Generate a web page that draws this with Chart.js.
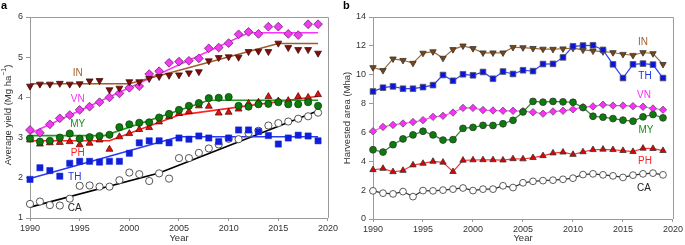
<!DOCTYPE html>
<html><head><meta charset="utf-8">
<script src="https://cdn.jsdelivr.net/npm/chart.js@4.4.1/dist/chart.umd.min.js"></script>
<style>
html,body{margin:0;padding:0;background:#fff;}
#wrap{position:relative;width:685px;height:245px;overflow:hidden;background:#fff;}
#ca{position:absolute;left:0;top:0;}
#cb{position:absolute;left:340px;top:0;}
</style></head><body>
<div id="wrap">
<canvas id="ca" width="340" height="245"></canvas>
<canvas id="cb" width="345" height="245"></canvas>
</div>
<script>
// ---------- categories ----------
const years = [1990,1991,1992,1993,1994,1995,1996,1997,1998,1999,2000,2001,2002,2003,2004,
               2005,2006,2007,2008,2009,2010,2011,2012,2013,2014,2015,2016,2017,2018,2019];
const countries = ['IN','VN','MY','PH','TH','CA'];

// ---------- panel a : average yield (Mg/ha) ----------
const yieldIN = [4.28,4.33,4.33,4.35,4.33,4.34,4.41,4.42,4.19,4.23,4.39,4.39,4.47,4.52,4.55,4.56,4.61,4.64,4.91,4.99,5.01,5.00,5.14,5.15,5.14,5.35,5.24,5.19,5.19,5.10];
const yieldVN = [3.19,3.12,3.33,3.48,3.56,3.69,3.77,3.88,4.00,4.10,4.24,4.28,4.58,4.65,4.86,4.89,4.91,4.97,5.22,5.24,5.35,5.57,5.63,5.58,5.76,5.76,5.58,5.55,5.82,5.82];
const yieldMY = [2.98,2.90,2.92,3.00,3.10,2.97,3.01,3.04,3.07,3.26,3.33,3.37,3.38,3.50,3.59,3.69,3.79,3.86,3.98,3.99,4.01,3.79,3.77,3.83,3.84,3.88,3.83,3.83,3.88,3.79];
const yieldPH = [2.94,2.84,2.87,2.88,2.90,2.82,2.86,2.94,2.71,3.02,3.10,3.20,3.25,3.39,3.52,3.60,3.65,3.79,3.78,3.61,3.63,3.71,3.85,3.88,4.02,3.91,3.92,4.02,4.00,4.07];
const yieldTH = [1.96,2.25,2.18,2.04,2.36,2.41,2.41,2.39,2.41,2.41,2.61,2.87,2.92,2.92,2.87,2.99,2.96,3.04,2.99,2.90,2.99,3.19,3.19,3.15,3.05,2.84,2.99,3.06,3.04,2.92];
const yieldCA = [1.35,1.41,1.32,1.31,1.48,1.80,1.81,1.78,1.78,1.94,2.13,2.09,1.92,2.11,1.98,2.49,2.49,2.62,2.73,2.83,2.97,2.96,3.11,3.17,3.30,3.36,3.40,3.47,3.53,3.62];

// segmented-regression fit lines (break-point years and values)
const fitYearsIN = [1990,2000,2015,2019];   const fitIN = [4.34,4.34,5.34,5.34];
const fitYearsVN = [1990,2012,2019];        const fitVN = [3.10,5.61,5.61];
const fitYearsMY = [1990,1997.5,2008,2019]; const fitMY = [3.05,3.05,3.93,3.93];
const fitYearsPH = [1990,1998,2005,2019];   const fitPH = [2.92,2.92,3.56,4.03];
const fitYearsTH = [1990,2005,2019];        const fitTH = [1.98,3.02,3.02];
const fitYearsCA = [1990,2003,2019];        const fitCA = [1.27,2.12,3.67];

// ---------- panel b : harvested area (Mha) ----------
const areaIN = [10.50,10.30,11.10,11.00,10.80,11.50,11.60,11.15,11.75,12.00,11.82,11.52,11.52,11.52,11.90,11.88,11.83,11.78,11.77,11.80,11.84,11.72,11.65,11.60,11.54,11.42,11.35,11.54,11.47,10.72];
const areaTH = [8.84,9.10,9.19,9.03,9.03,9.14,9.28,9.98,9.58,10.03,9.96,10.19,9.72,10.22,10.05,10.31,10.25,10.74,10.75,11.20,11.97,12.02,12.04,11.72,10.72,9.77,10.72,10.77,10.70,9.77];
const areaVN = [6.08,6.38,6.52,6.62,6.72,6.85,7.08,7.15,7.38,7.70,7.70,7.55,7.52,7.50,7.50,7.47,7.40,7.30,7.45,7.50,7.60,7.75,7.80,7.92,7.86,7.86,7.82,7.78,7.66,7.57];
const areaMY = [4.80,4.64,5.15,5.55,5.83,6.08,5.83,5.47,5.50,6.28,6.35,6.49,6.48,6.60,6.84,7.42,8.15,8.10,8.15,8.12,8.09,7.72,7.12,7.06,6.96,6.85,6.78,7.08,7.24,7.01];
const areaPH = [3.41,3.50,3.27,3.36,3.74,3.85,3.99,3.93,3.28,4.07,4.09,4.10,4.10,4.08,4.17,4.16,4.25,4.38,4.57,4.63,4.47,4.65,4.80,4.83,4.80,4.74,4.67,4.90,4.88,4.74];
const areaCA = [1.95,1.79,1.74,1.90,1.55,1.97,1.95,2.00,2.07,2.15,1.97,2.07,2.07,2.30,2.18,2.51,2.61,2.66,2.69,2.75,2.83,3.08,3.13,3.06,2.99,2.88,3.04,3.13,3.18,3.06];

// ---------- ticks ----------
const xTicks = [1990,1995,2000,2005,2010,2015,2020];
const yTicksA = [1,2,3,4,5,6];
const yTicksB = [0,2,4,6,8,10,12,14];

// ---------- styling ----------
const FONT = '"Liberation Sans", Arial, sans-serif';
const AX = '#9a9a9a';
const TXT = '#333';
const colLabel = {IN:'#a0622c', VN:'#ff2cff', MY:'#1e8c1e', PH:'#ff2020', TH:'#2233e6', CA:'#222'};

const pts = (xs, ys) => xs.map((x,i)=>({x:x, y:ys[i]}));

function scatterSet(vals, style, fill, border, r, rot, bw){
  return {type:'scatter', data: pts(years, vals), showLine:false, pointStyle:style, pointRotation:rot||0,
    pointRadius:r, pointBackgroundColor:fill, pointBorderColor:border, pointBorderWidth:bw,
    order:0, clip:false};
}
function fitSet(xs, vals, color){
  return {type:'line', data: pts(xs, vals), showLine:true, pointRadius:0, borderColor:color,
    borderWidth:1.6, fill:false, order:10, clip:false, tension:0};
}
function lineSet(vals, style, fill, border, lineColor, r, rot){
  return {type:'line', data: pts(years, vals), showLine:true, pointStyle:style, pointRotation:rot||0,
    pointRadius:r, pointBackgroundColor:fill, pointBorderColor:border, pointBorderWidth:0.8,
    borderColor:lineColor, borderWidth:1.2, fill:false, tension:0, clip:false};
}

function xScale(h){
  return {type:'linear', min:1990, max:2020,
    afterBuildTicks: s => { s.ticks = xTicks.map(v=>({value:v})); },
    afterFit: s => { s.height = h; },
    ticks:{font:{family:FONT,size:9}, color:TXT, padding:2, maxRotation:0, autoSkip:false, callback:v=>String(v)},
    grid:{drawOnChartArea:false, drawTicks:true, tickLength:3, color:AX, lineWidth:1},
    border:{display:true, color:AX, width:1}};
}
function yScale(min,max,tk,w){
  return {type:'linear', min:min, max:max,
    afterBuildTicks: s => { s.ticks = tk.map(v=>({value:v})); },
    afterFit: s => { s.width = w; },
    ticks:{font:{family:FONT,size:9}, color:TXT, padding:3, callback:v=>String(v)},
    grid:{drawOnChartArea:false, drawTicks:true, tickLength:4, color:AX, lineWidth:1},
    border:{display:true, color:AX, width:1}};
}

function decorPlugin(cfg){
  return {id:'decor'+cfg.panel, afterDraw(chart){
    const ctx = chart.ctx, a = chart.chartArea, xs = chart.scales.x, ys = chart.scales.y;
    ctx.save();
    ctx.strokeStyle = AX; ctx.lineWidth = 1;
    ctx.beginPath();
    ctx.moveTo(a.left, a.top+0.5); ctx.lineTo(a.right+0.5, a.top+0.5); ctx.lineTo(a.right+0.5, a.bottom);
    ctx.stroke();
    ctx.font = '10px ' + FONT; ctx.textAlign='center'; ctx.textBaseline='middle';
    cfg.labels.forEach(l => {
      ctx.fillStyle = colLabel[l.name];
      ctx.fillText(l.name, xs.getPixelForValue(l.x), ys.getPixelForValue(l.y));
    });
    ctx.fillStyle = '#000'; ctx.font = 'bold 11px ' + FONT; ctx.textAlign='left';
    ctx.fillText(cfg.panel, cfg.letterX, 6);
    ctx.fillStyle = TXT; ctx.font = '9.5px ' + FONT; ctx.textAlign='center';
    ctx.fillText('Year', (a.left+a.right)/2, 238);
    ctx.translate(cfg.yTitleX, cfg.yTitleY); ctx.rotate(-Math.PI/2);
    if (cfg.panel === 'a'){
      const p1 = 'Average yield (Mg ha', sup = '\u22121', p3 = ')';
      ctx.font = '9.5px ' + FONT; const w1 = ctx.measureText(p1).width, w3 = ctx.measureText(p3).width;
      ctx.font = '7px ' + FONT; const w2 = ctx.measureText(sup).width;
      let x0 = -(w1+w2+w3)/2;
      ctx.textAlign='left';
      ctx.font = '9.5px ' + FONT; ctx.fillText(p1, x0, 0);
      ctx.font = '7px ' + FONT; ctx.fillText(sup, x0+w1, -3.5);
      ctx.font = '9.5px ' + FONT; ctx.fillText(p3, x0+w1+w2, 0);
    } else {
      ctx.font = '9.5px ' + FONT; ctx.textAlign='center';
      ctx.fillText('Harvested area (Mha)', 0, 0);
    }
    ctx.restore();
  }};
}

Chart.defaults.font.family = FONT;

// ---------- chart a ----------
new Chart(document.getElementById('ca'), {
  type:'scatter',
  data:{datasets:[
    scatterSet(yieldIN, 'triangle', '#7d0f0f', '#3b0505', 4.0, 180, 0.7),
    scatterSet(yieldVN, 'rectRot', '#f03cf0', '#5a1a5a', 4.4, 0, 0.7),
    scatterSet(yieldMY, 'circle', '#0c7a0c', '#063806', 3.6, 0, 0.7),
    scatterSet(yieldPH, 'triangle', '#e01010', '#4a0000', 4.0, 0, 0.7),
    scatterSet(yieldTH, 'rect', '#1020d8', '#1020d8', 4.4, 0, 0.5),
    scatterSet(yieldCA, 'circle', '#ffffff', '#444444', 3.6, 0, 0.9),
    fitSet(fitYearsIN, fitIN, '#9c5b2b'),
    fitSet(fitYearsVN, fitVN, '#ff33ff'),
    fitSet(fitYearsMY, fitMY, '#1e9a1e'),
    fitSet(fitYearsPH, fitPH, '#ff2020'),
    fitSet(fitYearsTH, fitTH, '#2a3af0'),
    fitSet(fitYearsCA, fitCA, '#000000')
  ]},
  options:{responsive:false, animation:false, devicePixelRatio:1,
    layout:{padding:{left:0, top:17, right:9, bottom:0}},
    plugins:{legend:{display:false}, tooltip:{enabled:false}},
    scales:{x:xScale(27), y:yScale(1,6,yTicksA,30)}},
  plugins:[decorPlugin({panel:'a', letterX:1, yTitleX:8, yTitleY:115,
    labels:[{name:'IN',x:1994.8,y:4.61},{name:'VN',x:1994.8,y:3.96},{name:'MY',x:1994.8,y:3.33},
            {name:'PH',x:1994.8,y:2.62},{name:'TH',x:1994.5,y:2.02},{name:'CA',x:1994.5,y:1.25}]})]
});

// ---------- chart b ----------
new Chart(document.getElementById('cb'), {
  type:'line',
  data:{datasets:[
    lineSet(areaTH, 'rect', '#0a14e0', '#555', '#2a40ff', 4.0, 0),
    lineSet(areaIN, 'triangle', '#7a4515', '#333', '#9c6a35', 3.7, 180),
    lineSet(areaMY, 'circle', '#0b7d0b', '#333', '#2a8a2a', 3.4, 0),
    lineSet(areaVN, 'rectRot', '#ff2cff', '#555', '#ff55ff', 3.7, 0),
    lineSet(areaPH, 'triangle', '#e00000', '#333', '#ff3030', 3.7, 0),
    lineSet(areaCA, 'circle', '#ffffff', '#333', '#333333', 3.4, 0)
  ]},
  options:{responsive:false, animation:false, devicePixelRatio:1,
    layout:{padding:{left:0, top:17, right:10, bottom:0}},
    plugins:{legend:{display:false}, tooltip:{enabled:false}},
    scales:{x:xScale(26), y:yScale(0,14,yTicksB,33)}},
  plugins:[decorPlugin({panel:'b', letterX:3, yTitleX:7, yTitleY:118,
    labels:[{name:'IN',x:2017.0,y:12.26},{name:'TH',x:2017.2,y:9.89},{name:'VN',x:2017.1,y:8.57},
            {name:'MY',x:2017.3,y:6.13},{name:'PH',x:2017.2,y:3.97},{name:'CA',x:2017.1,y:2.16}]})]
});
</script>
</body></html>
